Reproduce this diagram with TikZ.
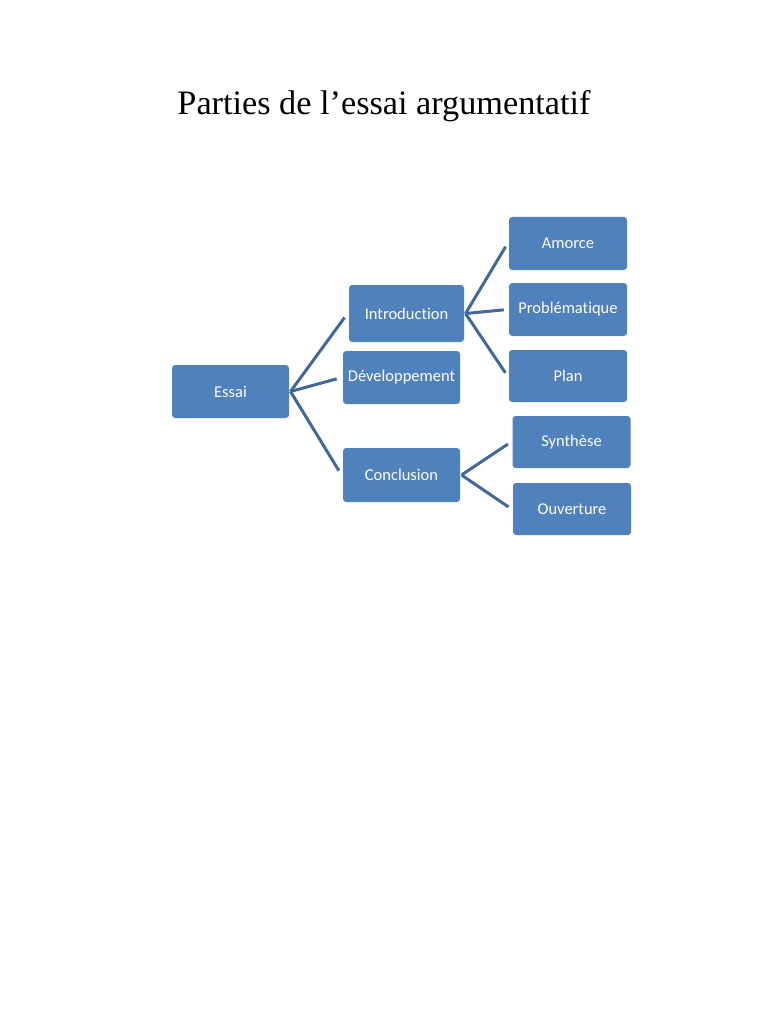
\documentclass[tikz,border=0pt]{standalone}
\usepackage{fontspec}
\setmainfont{Liberation Serif}
\newfontfamily\boxfont{Carlito}[Ligatures={NoCommon}]
\usetikzlibrary{positioning}
\definecolor{boxblue}{HTML}{4F81BD}
\definecolor{lineblue}{HTML}{41689C}
\tikzset{
  every path/.style={
    lineblue,
    line width=2.4pt
  },
  partbox/.style={
    draw=none,
    fill=boxblue,
    rounded corners=2.5pt,
    text=white,
    font=\boxfont\fontsize{13.2}{15}\selectfont,
    inner sep=1.5pt
  }
}
\begin{document}
\begin{tikzpicture}[x=0.8pt,y=-0.8pt]
    \useasboundingbox (0,0) rectangle (768,1024);

    % titre
    \node[black,font=\fontsize{27.4}{32}\selectfont] (T) at (384,106) {Parties de l’essai argumentatif};

    % boîtes
    \node[partbox,minimum width=117*0.8pt,minimum height=53*0.8pt] (E) at (230.5,391.5) {Essai};
    \node[partbox,minimum width=115*0.8pt,minimum height=57*0.8pt] (I) at (406.5,313.5) {Introduction};
    \node[partbox,minimum width=117*0.8pt,minimum height=53*0.8pt] (D) at (401.5,377.5) {Développement};
    \node[partbox,minimum width=117*0.8pt,minimum height=54*0.8pt] (C) at (401.5,475) {Conclusion};
    \node[partbox,minimum width=118*0.8pt,minimum height=53*0.8pt] (A) at (568,243.5) {Amorce};
    \node[partbox,minimum width=118*0.8pt,minimum height=53*0.8pt] (P) at (568,309.5) {Problématique};
    \node[partbox,minimum width=118*0.8pt,minimum height=52*0.8pt] (L) at (568,376) {Plan};
    \node[partbox,minimum width=118*0.8pt,minimum height=52*0.8pt] (S) at (571.5,442) {Synthèse};
    \node[partbox,minimum width=118*0.8pt,minimum height=52*0.8pt] (O) at (572,509) {Ouverture};

    % traits
    \draw[shorten >=4pt] (E.east) -- (I.west);
    \draw[shorten >=4pt] (E.east) -- (D.west);
    \draw[shorten >=4pt] (E.east) -- (C.west);
    \draw[shorten >=3pt] (I.east) -- (A.west);
    \draw[shorten >=3pt] (I.east) -- (P.west);
    \draw[shorten >=3pt] (I.east) -- (L.west);
    \draw[shorten >=3pt] (C.east) -- (S.west);
    \draw[shorten >=3pt] (C.east) -- (O.west);
\end{tikzpicture}
\end{document}
